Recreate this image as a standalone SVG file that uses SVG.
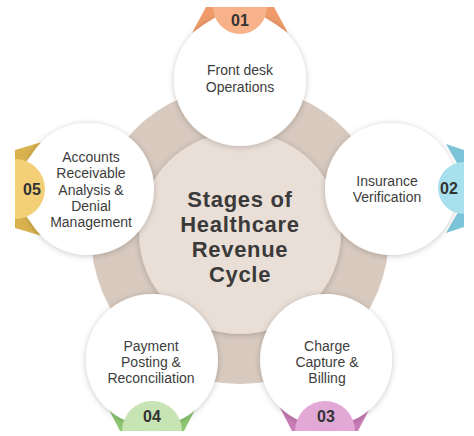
<svg xmlns="http://www.w3.org/2000/svg" width="474" height="436" viewBox="0 0 474 436">
  <defs>
    <filter id="sh" x="-20%" y="-20%" width="140%" height="140%">
      <feDropShadow dx="0" dy="1" stdDeviation="3" flood-color="#000" flood-opacity="0.22"/>
    </filter>
    <clipPath id="cv"><rect x="0" y="0" width="474" height="436"/></clipPath>
  </defs>
  <style>
    .item { font-family: "Liberation Sans", Arial, sans-serif; font-size: 14px; fill: #3d3d3d; text-anchor: middle; }
    .num { font-family: "Liberation Sans", Arial, sans-serif; font-size: 16px; font-weight: bold; fill: #333; text-anchor: middle; }
    .title { font-family: "Liberation Sans", Arial, sans-serif; font-size: 22px; font-weight: bold; letter-spacing: 0.7px; fill: #3a3a3a; text-anchor: middle; }
    .node { fill: #ffffff; filter: url(#sh); }
  </style>
  <rect width="474" height="436" fill="#ffffff"/>
  <g clip-path="url(#cv)">
    <g id="connectors">
      <circle cx="240" cy="235" r="149" fill="#d8cabf"/>
    </g>
    <g id="center">
      <circle cx="240" cy="233" r="101" fill="#eadfd7" filter="url(#sh)"/>
      <text class="title" x="240" y="206.5">Stages of</text>
      <text class="title" x="240" y="231.5">Healthcare</text>
      <text class="title" x="240" y="256.5">Revenue</text>
      <text class="title" x="240" y="281.5">Cycle</text>
    </g>
    <g id="node-01">
      <polygon points="192,33 206,7 230,7" fill="#ef9a68"/>
      <polygon points="288,33 274,7 250,7" fill="#ef9a68"/>
      <circle class="node" cx="240" cy="80" r="66"/>
      <path d="M213,7 A27,27 0 0 0 267,7 Z" fill="#f7b28a"/>
      <text class="num" x="240" y="26">01</text>
      <text class="item" x="240" y="75">Front desk</text>
      <text class="item" x="240" y="92">Operations</text>
    </g>
    <g id="node-02">
      <polygon points="446,144 464,150 464,175" fill="#7cc4d8"/>
      <polygon points="446,233 464,227 464,202" fill="#7cc4d8"/>
      <circle class="node" cx="391" cy="189" r="66"/>
      <path d="M464,162 A26,26 0 0 0 464,214 Z" fill="#a9e0ee"/>
      <text class="num" x="449" y="194">02</text>
      <text class="item" x="387" y="186">Insurance</text>
      <text class="item" x="387" y="202">Verification</text>
    </g>
    <g id="node-03">
      <polygon points="277,402 292,431 310,431" fill="#c97db6"/>
      <polygon points="373,402 358,431 340,431" fill="#c97db6"/>
      <circle class="node" cx="326" cy="360" r="66"/>
      <path d="M295,431 A30,30 0 0 1 355,431 Z" fill="#e3a9d6"/>
      <text class="num" x="326" y="422">03</text>
      <text class="item" x="327" y="351">Charge</text>
      <text class="item" x="327" y="367">Capture &amp;</text>
      <text class="item" x="327" y="383">Billing</text>
    </g>
    <g id="node-04">
      <polygon points="105,402 120,431 138,431" fill="#8fc873"/>
      <polygon points="199,402 184,431 166,431" fill="#8fc873"/>
      <circle class="node" cx="152" cy="360" r="66"/>
      <path d="M122,431 A30,30 0 0 1 182,431 Z" fill="#c6e4b4"/>
      <text class="num" x="152" y="422">04</text>
      <text class="item" x="151" y="351">Payment</text>
      <text class="item" x="151" y="367">Posting &amp;</text>
      <text class="item" x="151" y="383">Reconciliation</text>
    </g>
    <g id="node-05">
      <polygon points="42,142 15,150 15,175" fill="#d9b24f"/>
      <polygon points="42,236 15,228 15,203" fill="#d9b24f"/>
      <circle class="node" cx="88" cy="189" r="66"/>
      <path d="M15,159 A30,30 0 0 1 15,219 Z" fill="#f3d077"/>
      <text class="num" x="32" y="195">05</text>
      <text class="item" x="91" y="162">Accounts</text>
      <text class="item" x="91" y="178">Receivable</text>
      <text class="item" x="91" y="195">Analysis &amp;</text>
      <text class="item" x="91" y="211">Denial</text>
      <text class="item" x="91" y="227">Management</text>
    </g>
  </g>
</svg>
